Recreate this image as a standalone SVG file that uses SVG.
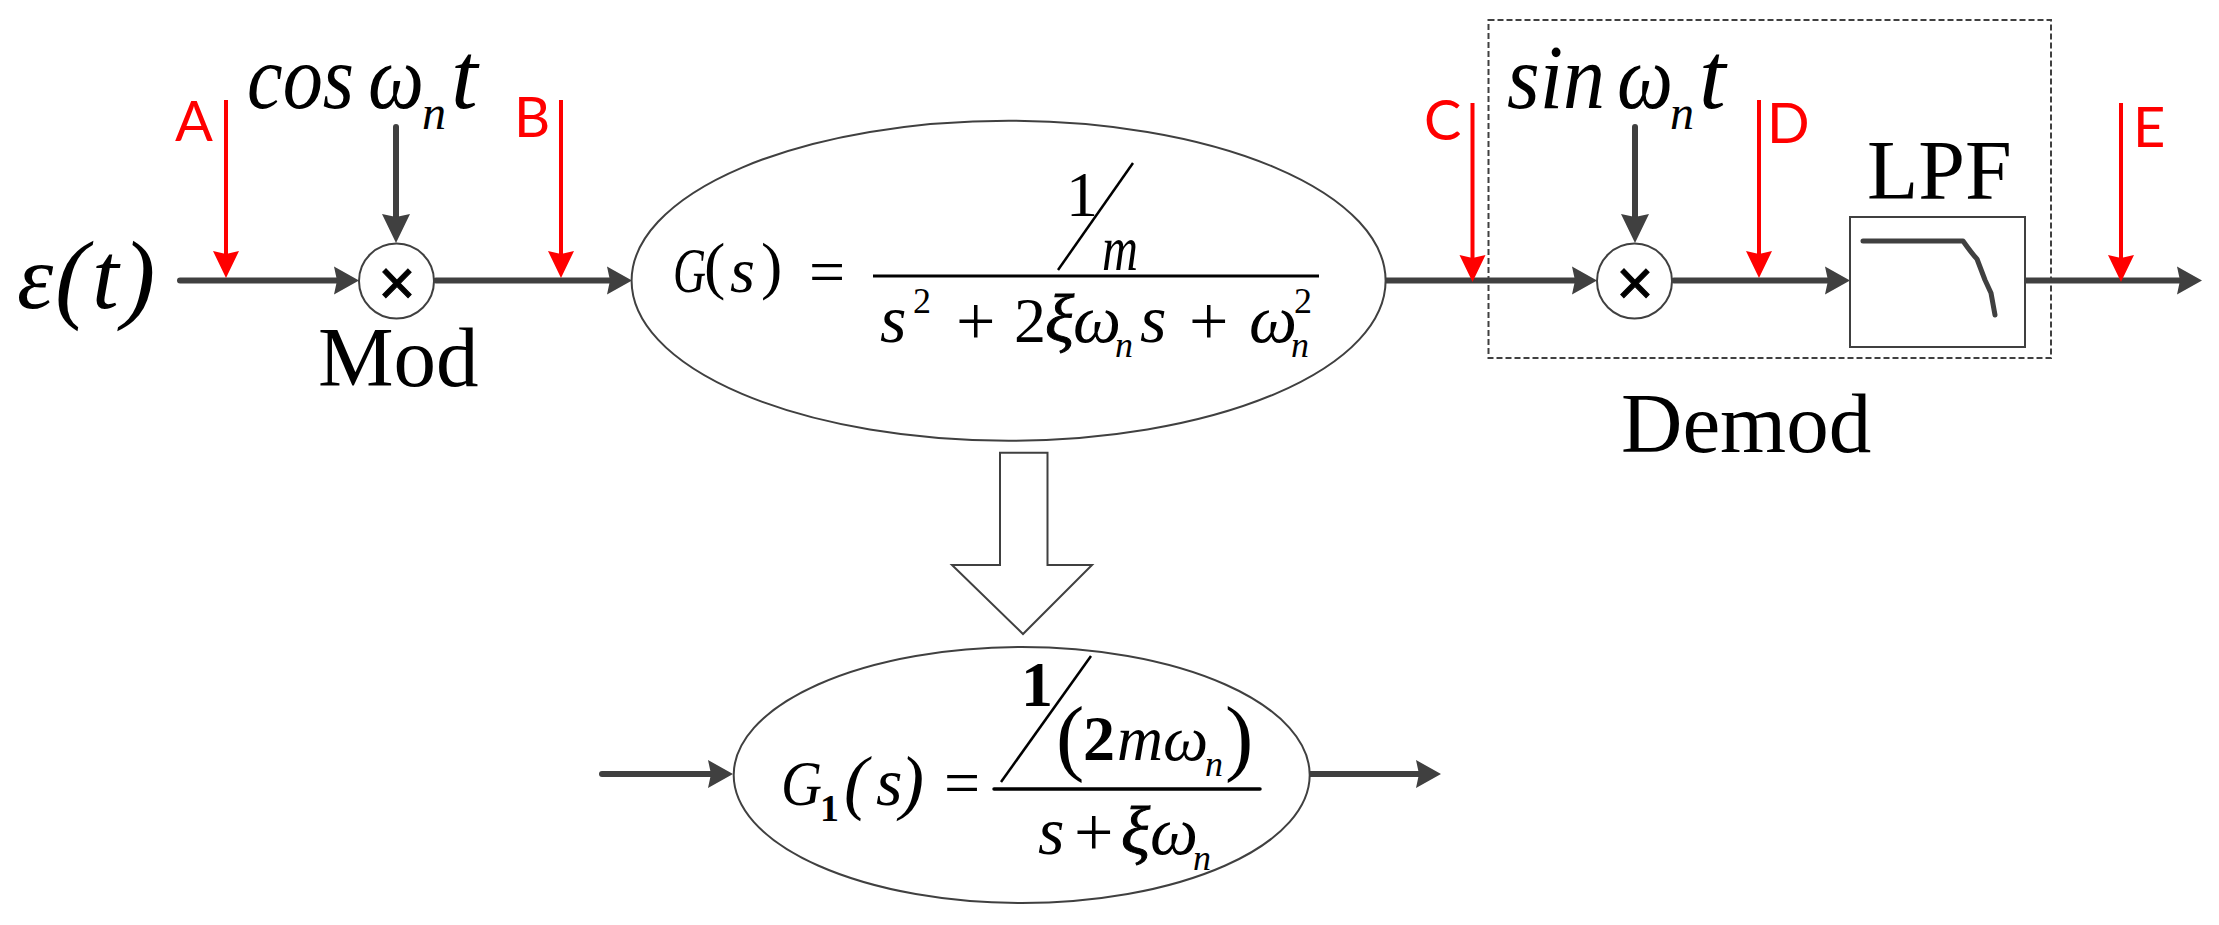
<svg xmlns="http://www.w3.org/2000/svg" width="2219" height="925" viewBox="0 0 2219 925">
<style>
text{font-family:"Liberation Serif","Times New Roman",serif;fill:#000}
.i{font-style:italic}
.b{font-weight:bold}
.xi{stroke:#000;stroke-width:1}
.lbl{font-family:Lato,"Liberation Sans",sans-serif;fill:#f00;font-size:56px}
.x{font-family:"Liberation Sans",sans-serif;font-size:64px;text-anchor:middle;stroke:#000;stroke-width:1}
.dk{stroke:#404040;stroke-width:6;stroke-linecap:round;fill:none;marker-end:url(#dh)}
.dv{stroke:#404040;stroke-width:6;stroke-linecap:round;fill:none;marker-end:url(#dv)}
.rd{stroke:#f00;stroke-width:4;fill:none;marker-end:url(#rh)}
.nd{fill:#fff;stroke:#404040;stroke-width:2}
.rule{stroke:#000;fill:none}
.t92{font-size:92px}.t96{font-size:96px}.s48{font-size:48px}
.t64{font-size:64px}.t68{font-size:68px}.s36{font-size:36px}
.m85{font-size:85px}
</style>
<defs>
<marker id="dh" markerUnits="userSpaceOnUse" markerWidth="26" markerHeight="28" refX="5" refY="14" orient="auto" overflow="visible"><path d="M0,0 L25,14 L0,28 L3,14Z" fill="#404040"/></marker>
<marker id="dv" markerUnits="userSpaceOnUse" markerWidth="30" markerHeight="28" refX="5" refY="14" orient="auto" overflow="visible"><path d="M0,0 L29,14 L0,28 L3,14Z" fill="#404040"/></marker>
<marker id="rh" markerUnits="userSpaceOnUse" markerWidth="28" markerHeight="26" refX="5" refY="13" orient="auto" overflow="visible"><path d="M0,0 L27,13 L0,26 L3,13Z" fill="#f00"/></marker>
</defs>

<g id="input-label">
<text class="i t92" x="17" y="308">ε</text>
<text class="i" font-size="100" x="55" y="310">(</text>
<text class="i t96" x="92" y="308">t</text>
<text class="i" font-size="100" x="122" y="310">)</text>
</g>

<g id="cos-label">
<text class="i t92" x="247" y="108" textLength="107" lengthAdjust="spacingAndGlyphs">cos</text>
<text class="i t92" x="368" y="108" textLength="56" lengthAdjust="spacingAndGlyphs">ω</text>
<text class="i s48" x="422" y="129">n</text>
<text class="i t96" x="451" y="108">t</text>
</g>

<g id="mod-label"><text class="m85" x="318" y="386">Mod</text></g>

<g id="connectors">
<line class="dk" x1="180" y1="280.5" x2="339" y2="280.5"/>
<line class="dk" x1="436" y1="280.5" x2="612" y2="280.5"/>
<line class="dk" x1="1386" y1="280.5" x2="1577" y2="280.5"/>
<line class="dk" x1="1674" y1="280.5" x2="1830" y2="280.5"/>
<line class="dk" x1="2025" y1="280.5" x2="2182" y2="280.5"/>
<line class="dk" x1="602" y1="774" x2="713" y2="774"/>
<line class="dk" x1="1310" y1="774" x2="1421" y2="774"/>
<line class="dv" x1="396" y1="127" x2="396" y2="219"/>
<line class="dv" x1="1635" y1="127" x2="1635" y2="219"/>
<line class="rd" x1="226" y1="100" x2="226" y2="256"/>
<line class="rd" x1="561" y1="100" x2="561" y2="256"/>
<line class="rd" x1="1472.5" y1="103" x2="1472.5" y2="260"/>
<line class="rd" x1="1759" y1="100" x2="1759" y2="256"/>
<line class="rd" x1="2121" y1="103" x2="2121" y2="260"/>
</g>

<g id="probe-labels">
<text class="lbl" x="175" y="141">A</text>
<text class="lbl" x="514" y="137">B</text>
<text class="lbl" x="1424" y="140">C</text>
<text class="lbl" x="1767" y="143">D</text>
<text class="lbl" x="2133" y="147">E</text>
</g>

<g id="mod">
<circle class="nd" cx="396.5" cy="281" r="37.5"/>
<text class="x" x="397" y="305">×</text>
</g>

<g id="plant">
<ellipse class="nd" cx="1008.6" cy="280.7" rx="377" ry="160"/>
<text class="i t64" x="673" y="292" textLength="33" lengthAdjust="spacingAndGlyphs">G</text>
<text class="t64" x="704" y="287">(</text>
<text class="i t64" x="730" y="292">s</text>
<text class="t64" x="761" y="287">)</text>
<text class="t64" x="809" y="293">=</text>
<text class="t64" x="1066" y="216">1</text>
<line class="rule" x1="1133" y1="163" x2="1058" y2="270" stroke-width="2.5"/>
<text class="i t64" x="1102" y="270" textLength="36" lengthAdjust="spacingAndGlyphs">m</text>
<line class="rule" x1="873" y1="276" x2="1319" y2="276" stroke-width="3"/>
<text class="i t68" x="880" y="342">s</text>
<text x="913" y="313" font-size="36">2</text>
<text font-size="70" x="956" y="345">+</text>
<text class="t64" x="1014" y="342">2</text>
<text class="i xi t68" x="1045" y="342">ξ</text>
<text class="i t68" x="1073" y="342">ω</text>
<text class="i s36" x="1115" y="357">n</text>
<text class="i t68" x="1140" y="342">s</text>
<text font-size="70" x="1189" y="345">+</text>
<text class="i t68" x="1249" y="342">ω</text>
<text x="1294" y="313" font-size="36">2</text>
<text class="i s36" x="1291" y="357">n</text>
</g>

<g id="demod">
<rect x="1488.5" y="20" width="562.5" height="338" fill="none" stroke="#404040" stroke-width="2" stroke-dasharray="6 3"/>
<text class="m85" x="1621" y="452">Demod</text>
</g>

<g id="sin-label">
<text class="i t92" x="1507" y="108" textLength="98" lengthAdjust="spacingAndGlyphs">sin</text>
<text class="i t92" x="1617" y="108" textLength="56" lengthAdjust="spacingAndGlyphs">ω</text>
<text class="i s48" x="1670" y="129">n</text>
<text class="i t96" x="1699" y="108">t</text>
</g>

<g id="demod-mult">
<circle class="nd" cx="1634.5" cy="281" r="37.5"/>
<text class="x" x="1635" y="305">×</text>
</g>

<g id="lpf">
<text font-size="84" x="1867" y="199">LPF</text>
<rect class="nd" x="1850" y="217" width="175" height="130"/>
<path d="M1863,241 L1963,241 Q1973,255 1977,259 L1985,280 L1991,293 L1995,315" fill="none" stroke="#404040" stroke-width="5" stroke-linecap="round" stroke-linejoin="round"/>
</g>

<g id="hollow-arrow">
<polygon points="1000,452.7 1047.5,452.7 1047.5,565 1092,565 1023,634 952,565 1000,565" fill="#fff" stroke="#404040" stroke-width="2"/>
</g>

<g id="reduced">
<ellipse class="nd" cx="1021.7" cy="775" rx="288" ry="128"/>
<text class="i t64" x="781" y="805" textLength="41" lengthAdjust="spacingAndGlyphs">G</text>
<text class="b" font-size="38" x="820" y="821">1</text>
<text class="i" font-size="72" x="844" y="806">(</text>
<text class="i t68" x="876" y="805">s</text>
<text class="i" font-size="72" x="900" y="806">)</text>
<text class="t64" x="944" y="804">=</text>
<text class="b t64" x="1021" y="706">1</text>
<line class="rule" x1="1091" y1="656" x2="1001" y2="782" stroke-width="2.5"/>
<text font-size="85" x="1056" y="765">(</text>
<text class="b t64" x="1083" y="760">2</text>
<text class="i t64" x="1117" y="760" textLength="46" lengthAdjust="spacingAndGlyphs">m</text>
<text class="i t64" x="1163" y="760">ω</text>
<text class="i s36" x="1205" y="776">n</text>
<text font-size="85" x="1225" y="765">)</text>
<line class="rule" x1="994" y1="789" x2="1260" y2="789" stroke-width="3.5" stroke-linecap="round"/>
<text class="i t68" x="1038" y="854">s</text>
<text font-size="70" x="1074" y="856">+</text>
<text class="i xi t68" x="1121" y="854">ξ</text>
<text class="i t68" x="1150" y="854">ω</text>
<text class="i s36" x="1193" y="870">n</text>
</g>
</svg>
